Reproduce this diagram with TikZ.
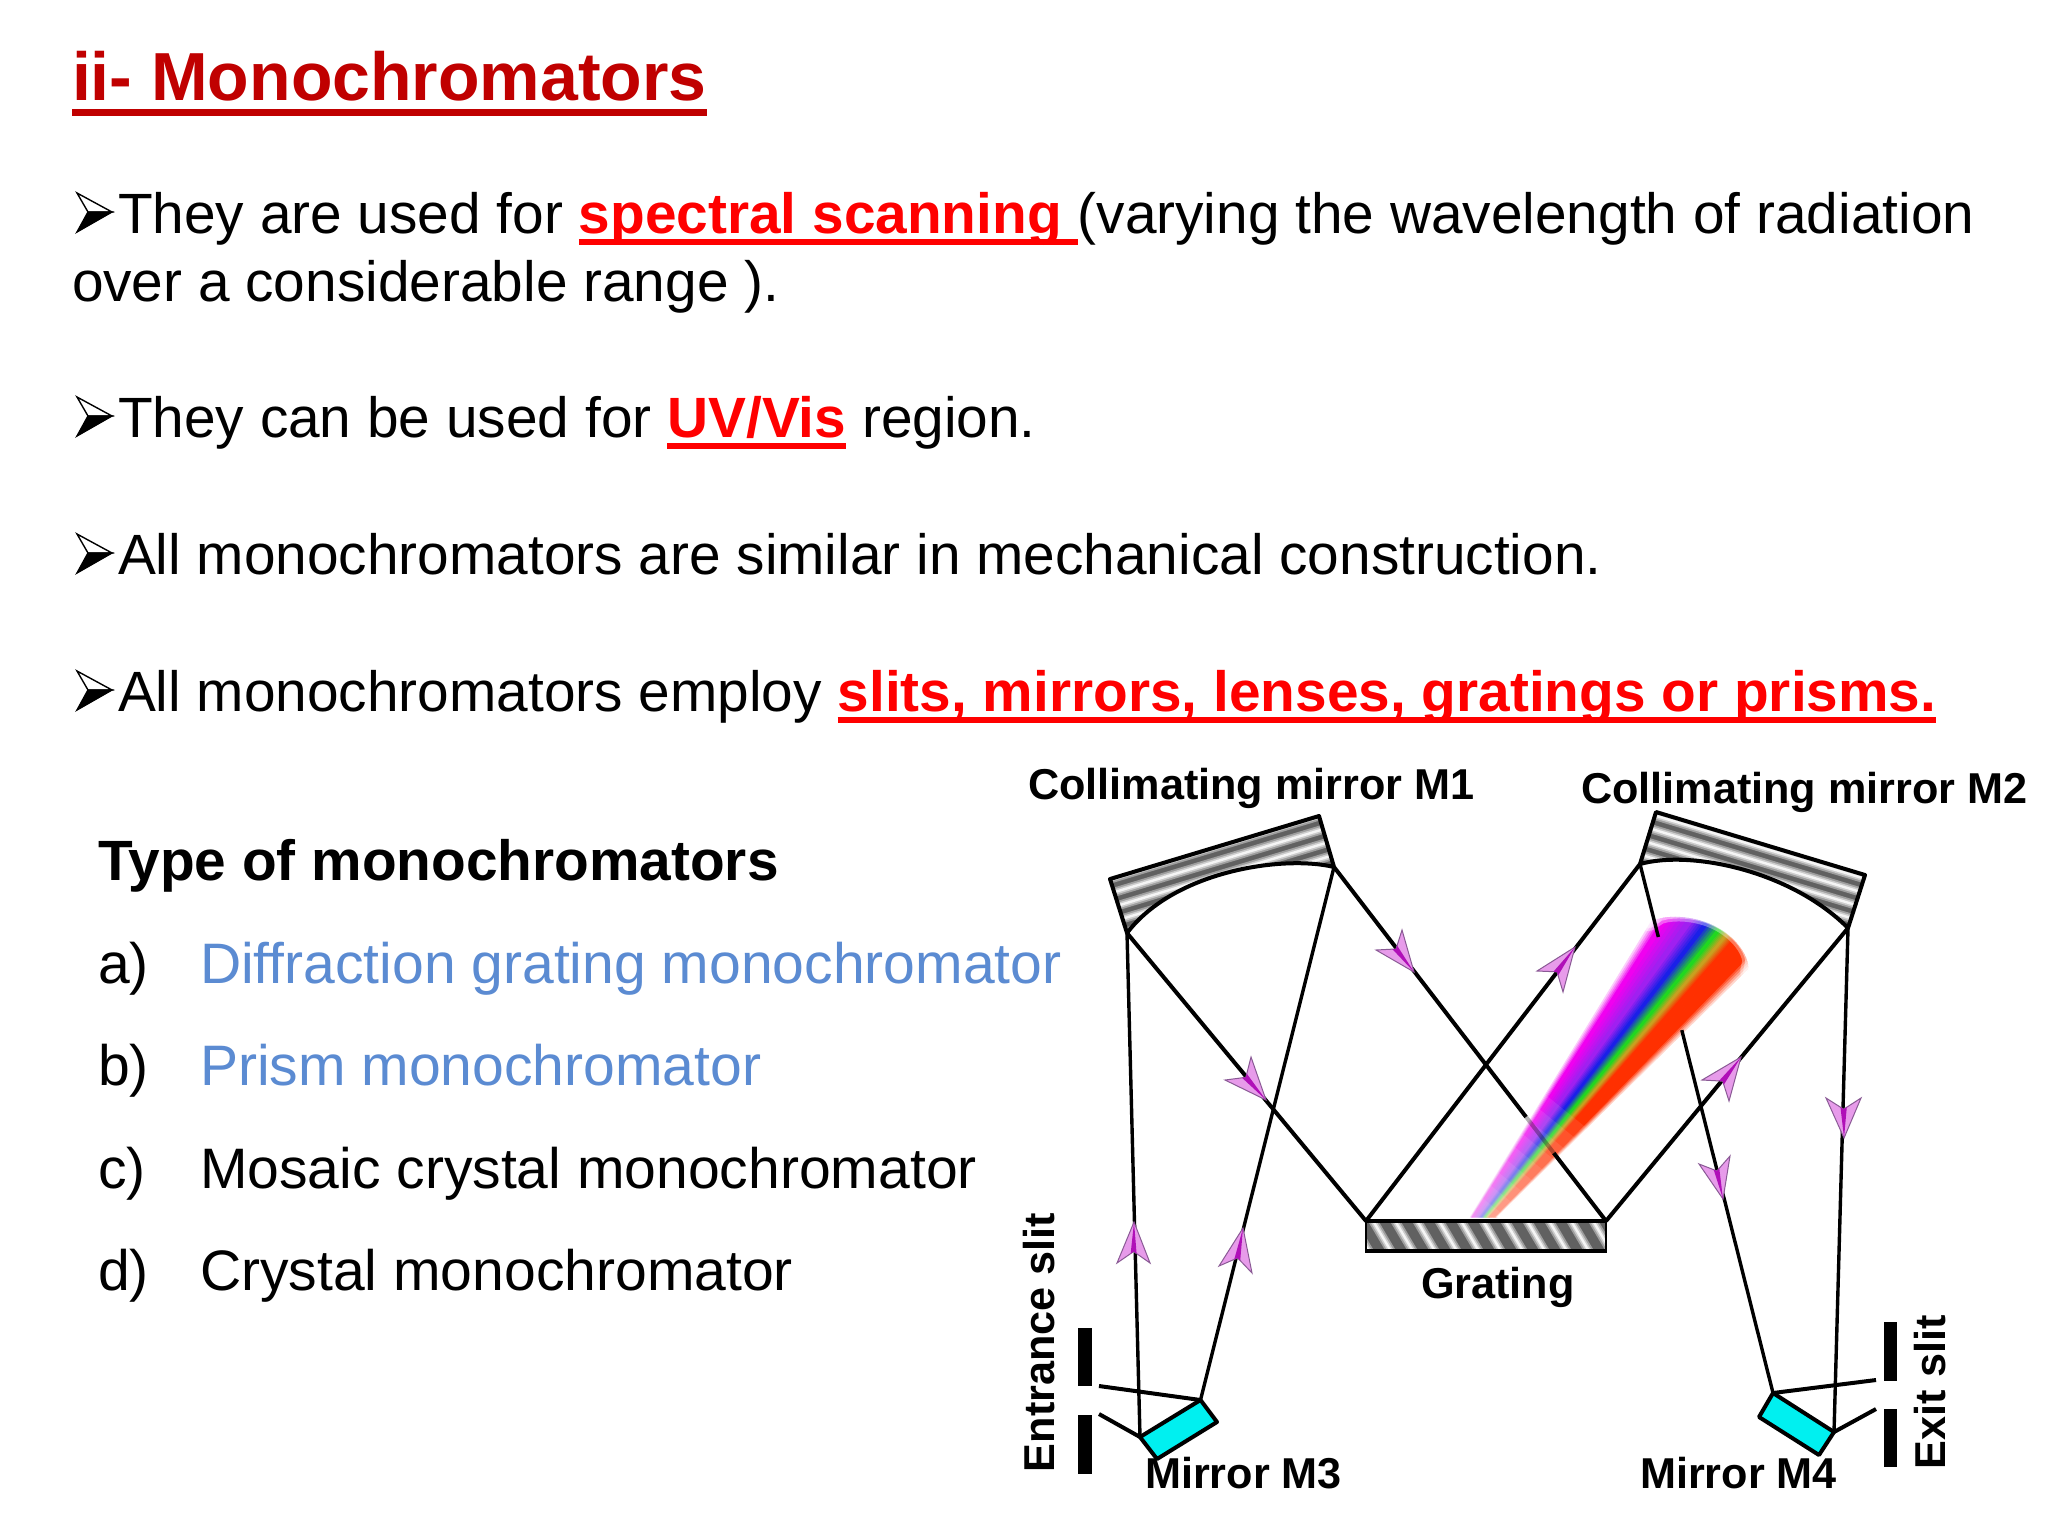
\documentclass[tikz,border=0pt]{standalone}
\usepackage{fontspec}
\setmainfont{Liberation Sans}
\usetikzlibrary{calc}
\definecolor{titlered}{HTML}{C00000}
\definecolor{bluetext}{HTML}{5B8BD2}
\definecolor{mcyan}{HTML}{00F0F0}
\definecolor{dartfill}{HTML}{E79BEA}
\definecolor{dartcore}{HTML}{B010B8}
\definecolor{dartedge}{HTML}{8A5A95}
\definecolor{spM}{HTML}{F000F0}
\definecolor{spP}{HTML}{A020F0}
\definecolor{spB}{HTML}{1A20E8}
\definecolor{spG}{HTML}{20D820}
\definecolor{spY}{HTML}{C8A020}
\definecolor{spR}{HTML}{FF3000}
\newcommand\redul[1]{\leavevmode\setbox0\hbox{\textcolor{red}{\bfseries #1}}\rlap{\textcolor{red}{\rule[-6.2pt]{\wd0}{3.4pt}}}\box0\relax}
\newcommand\titleul[1]{\leavevmode\setbox0\hbox{#1}\rlap{\rule[-7.6pt]{\wd0}{3.5pt}}\box0\relax}
\newcommand\bulletmark[1]{%
  \filldraw[bulup] (77,#1-40)--(112,#1-21)--(88,#1-21)--cycle;
  \filldraw[buldown] (77,#1-1)--(112,#1-21)--(88,#1-21)--cycle;
}
\newcommand\raydart[3]{%
  \coordinate (dtip) at #1; \coordinate (dba) at #2; \coordinate (dbb) at #3;
  \coordinate (dmid) at ($(dba)!.5!(dbb)$);
  \coordinate (dn) at ($(dtip)!.72!(dmid)$);
  \fill[dartfill,draw=dartedge,line width=.5pt] (dtip)--(dba)--(dn)--(dbb)--cycle;
  \fill[dartcore] (dtip)--($(dn)!.18!(dba)$)--(dn)--($(dn)!.18!(dbb)$)--cycle;
}
\tikzset{
  body/.style={anchor=base west,inner sep=0pt,outer sep=0pt,font=\fontsize{28.4}{34}\selectfont},
  listitem/.style={anchor=base west,inner sep=0pt,outer sep=0pt,font=\fontsize{28.53}{34}\selectfont},
  lab/.style={anchor=base west,inner sep=0pt,outer sep=0pt,font=\fontsize{21.6}{26}\selectfont\bfseries},
  ray/.style={black,line width=2pt},
  thinray/.style={black,line width=1.7pt},
  slitbar/.style={fill=black,draw=none},
  mirrorline/.style={black,line width=2pt,line join=round},
  small/.style={fill=mcyan,draw=black,line width=2pt,line join=round},
  bulup/.style={fill=white,draw=black,line width=.7pt,line join=miter},
  buldown/.style={fill=black,draw=black,line width=.7pt,line join=miter},
  stripeA/.style={draw=black!38,line width=4.6pt},
  stripeB/.style={draw=black!20,line width=2.8pt},
  stripeC/.style={draw=black!4,line width=1.2pt},
  stripebase/.style={fill=black!62},
  declare function={bump(\u)=32*sqrt(abs(sin(180*\u)));
                    spx(\u)=1645+100*\u+0.6*bump(\u);
                    spy(\u)=927+50*\u-0.8*bump(\u);
                    bsx(\u)=1470+28*\u;}
}
\begin{document}
\begin{tikzpicture}[x=.5pt,y=-.5pt]
\useasboundingbox (0,0) rectangle (2048,1536);
\fill[white] (0,0) rectangle (2048,1536);

% text
\node[body,font=\fontsize{34}{40}\selectfont\bfseries,text=titlered] (title) at (72,101) {\titleul{ii- Monochromators}};
\bulletmark{233}
\node[body] (l1) at (118,233) {They are used for \redul{spectral scanning\ }(varying the wavelength of radiation};
\node[body] (l1b) at (72,301) {over a considerable range ).};
\bulletmark{437}
\node[body] (l2) at (118,437) {They can be used for \redul{UV/Vis} region.};
\bulletmark{574}
\node[body] (l3) at (118,574) {All monochromators are similar in mechanical construction.};
\bulletmark{711}
\node[body] (l4) at (118,711) {All monochromators employ \redul{slits, mirrors, lenses, gratings or prisms.}};
\node[listitem,font=\fontsize{28.4}{34}\selectfont\bfseries] (type) at (98,880) {Type of monochromators};
\node[listitem] (a) at (98,983.5) {a)};
\node[listitem,text=bluetext] (at) at (200,983.5) {Diffraction grating monochromator};
\node[listitem] (b) at (98,1085.5) {b)};
\node[listitem,text=bluetext] (bt) at (200,1085.5) {Prism monochromator};
\node[listitem] (c) at (98,1188) {c)};
\node[listitem] (ct) at (200,1188) {Mosaic crystal monochromator};
\node[listitem] (d) at (98,1290.5) {d)};
\node[listitem] (dt) at (200,1290.5) {Crystal monochromator};

% key points
\coordinate (M1L) at (1127,933);
\coordinate (M1R) at (1334,867);
\coordinate (M2L) at (1640,864);
\coordinate (M2R) at (1848,928);
\coordinate (GL) at (1366,1221);
\coordinate (GR) at (1606,1221);
\coordinate (M3L) at (1140,1437);
\coordinate (M3T) at (1200.5,1400);
\coordinate (M4T) at (1773,1393);
\coordinate (M4R) at (1834,1432);

% spectrum
\foreach \ca/\cb/\ua/\ub in {white/spM/0/.1,spM/spP/.1/.3,spP/spB/.3/.43,spB/spG/.43/.56,spG/spY/.56/.64,spY/spR/.64/.72,spR/spR/.72/.9,spR/white/.9/1}{
  \foreach \k in {0,...,5}{
    \pgfmathsetmacro\p{100*\k/5}
    \pgfmathsetmacro\ui{\ua+(\ub-\ua)*\k/6}
    \pgfmathsetmacro\uj{\ua+(\ub-\ua)*(\k+1)/6}
    \colorlet{stripc}{\cb!\p!\ca}
    \fill[stripc,draw=stripc,line width=.4pt] ({bsx(\ui)},1217)--({spx(\ui)},{spy(\ui)})--({spx(\uj)},{spy(\uj)})--({bsx(\uj)},1217)--cycle;
  }
}
% soft top of the spectrum
\foreach \w/\o in {18/.35,12/.45}{
  \draw[white,opacity=\o,line width=\w*.5pt,line cap=round] plot[domain=0:1,samples=25] ({spx(\x)+.6*6},{spy(\x)-.8*6});
}
% fade toward the grating
\foreach \d in {15,30,...,135}{
  \fill[white,opacity=.09] ($(1482,1217)+(-.63*20+.776*120,.776*20+.63*120)$) --
    ($(1482,1217)+(-.63*20-.776*120,.776*20-.63*120)$) --
    ($(1482,1217)+(.63*\d-.776*120,-.776*\d-.63*120)$) --
    ($(1482,1217)+(.63*\d+.776*120,-.776*\d+.63*120)$) -- cycle;
}

% collimating mirror M1
\begin{scope}
\clip (1110,879)--(1319,816)--(1334,867) .. controls (1285,855) and (1175,870) .. (1127,933) -- cycle;
\fill[stripebase] (1100,800) rectangle (1340,940);
\foreach \i in {-1,...,10}{
  \foreach \s in {stripeA,stripeB,stripeC}{
    \draw[\s] ($(1090,885)+(0,14.5*\i)$)--++(300,-90.4);
  }
}
\end{scope}
\draw[mirrorline] (1110,879)--(1319,816)--(1334,867) .. controls (1285,855) and (1175,870) .. (1127,933) -- cycle;

% collimating mirror M2
\begin{scope}
\clip (1656,812)--(1865,875)--(1848,928) .. controls (1790,870) and (1690,850) .. (1640,864) -- cycle;
\fill[stripebase] (1630,800) rectangle (1870,940);
\foreach \i in {-1,...,10}{
  \foreach \s in {stripeA,stripeB,stripeC}{
    \draw[\s] ($(1630,808)+(0,14.5*\i)$)--++(300,90.4);
  }
}
\end{scope}
\draw[mirrorline] (1656,812)--(1865,875)--(1848,928) .. controls (1790,870) and (1690,850) .. (1640,864) -- cycle;

% grating
\begin{scope}
\clip (1366,1221) rectangle (1606,1251);
\fill[stripebase] (1366,1221) rectangle (1606,1251);
\foreach \i in {0,...,12}{
  \foreach \s in {stripeA,stripeB,stripeC}{
    \draw[\s] (1350+22*\i,1219)--++(20,34);
  }
}
\end{scope}
\draw[black,line width=1pt] (1366,1221) rectangle (1606,1251);
\draw[black,line width=2.2pt] (1365,1221)--(1607,1221) (1365,1251)--(1607,1251);

% rays
\draw[thinray] (M3L)--(M1L);
\draw[thinray] (M3T)--(M1R);
\draw[ray] (M1L)--(GL);
\draw[ray] (M1R)--($(M1R)!.706!(GR)$);
\draw[ray,opacity=.3] ($(M1R)!.706!(GR)$)--($(M1R)!.808!(GR)$);
\draw[ray] ($(M1R)!.808!(GR)$)--(GR);
\draw[ray] (GL)--(M2L);
\draw[ray] (GR)--(M2R);
\draw[thinray] (M2L)--($(M2L)!.138!(M4T)$);
\draw[thinray] ($(M2L)!.314!(M4T)$)--(M4T);
\draw[thinray] (M2R)--(M4R);

% darts
\raydart{(1134,1222)}{(1117,1263)}{(1150,1263)}
\raydart{(1243,1228)}{(1219,1266)}{(1252,1273)}
\raydart{(1266,1100)}{(1251,1057)}{(1225,1080)}
\raydart{(1414,972)}{(1402,930)}{(1376,950)}
\raydart{(1575,947)}{(1537,971)}{(1563,992)}
\raydart{(1741,1057)}{(1702,1080)}{(1729,1101)}
\raydart{(1844,1138)}{(1826,1098)}{(1861,1098)}
\raydart{(1723,1199)}{(1699,1164)}{(1730,1156)}

% small mirrors
\draw[small] (M3T)--(1217,1422)--(1157,1459)--(M3L)--cycle;
\draw[small] (M4T)--(1759,1417)--(1819,1455)--(M4R)--cycle;

% slits
\fill[slitbar] (1078,1328) rectangle (1092,1386);
\fill[slitbar] (1078,1415) rectangle (1092,1474);
\fill[slitbar] (1884,1322) rectangle (1897,1381);
\fill[slitbar] (1884,1409) rectangle (1897,1467);
\coordinate (ES1) at (1099,1386);
\coordinate (ES2) at (1099,1414);
\coordinate (XS1) at (1876,1380);
\coordinate (XS2) at (1876,1409);
\draw[ray] (ES1)--(M3T);
\draw[ray] (ES2)--(M3L);
\draw[ray] (XS1)--(M4T);
\draw[ray] (XS2)--(M4R);

% labels
\node[lab] (lm1) at (1028,799) {Collimating mirror M1};
\node[lab] (lm2) at (1581,803) {Collimating mirror M2};
\node[lab] (lg) at (1421,1298) {Grating};
\node[lab] (lm3) at (1145,1488) {Mirror M3};
\node[lab] (lm4) at (1640,1488) {Mirror M4};
\node[lab,rotate=90] (les) at (1054,1472) {Entrance slit};
\node[lab,rotate=90] (lxs) at (1945,1469) {Exit slit};
\end{tikzpicture}
\end{document}
